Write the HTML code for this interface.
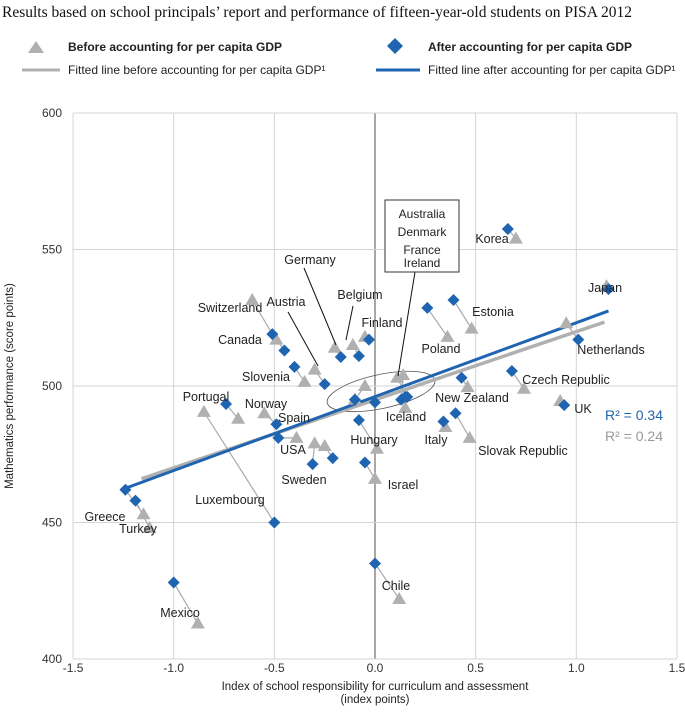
<!DOCTYPE html>
<html><head><meta charset="utf-8"><style>
body{margin:0;background:#fff;width:685px;height:723px;overflow:hidden;font-family:"Liberation Sans",sans-serif}
svg text{font-family:"Liberation Sans",sans-serif}
</style></head><body>
<svg id="c" width="685" height="723">
<text x="2" y="17" font-size="15.5" fill="#111" style="font-family:'Liberation Serif',serif">Results based on school principals’ report and performance of fifteen-year-old students on PISA 2012</text>
<g font-size="12" font-weight="bold" fill="#222">
<polygon points="36,41 28,53 44,53" fill="#b0b0b0"/>
<text x="68" y="51">Before accounting for per capita GDP</text>
<polygon points="395,38 403,46 395,54 387,46" fill="#1f64b0"/>
<text x="428" y="51">After accounting for per capita GDP</text>
<line x1="22" y1="70" x2="60" y2="70" stroke="#b0b0b0" stroke-width="3"/>
<text x="68" y="74" font-weight="normal">Fitted line before accounting for per capita GDP¹</text>
<line x1="376" y1="70" x2="420" y2="70" stroke="#1f64b0" stroke-width="3"/>
<text x="428" y="74" font-weight="normal">Fitted line after accounting for per capita GDP¹</text>
</g>
<g id="grid"></g><g id="plot"></g>
<text transform="translate(13,386) rotate(-90)" text-anchor="middle" font-size="11.5" fill="#222">Mathematics performance (score points)</text>
<text x="375" y="690" text-anchor="middle" font-size="11.5" fill="#222">Index of  school responsibility for curriculum and assessment</text>
<text x="375" y="703" text-anchor="middle" font-size="11.5" fill="#222">(index points)</text>
</svg>
<script>
const xTicks=[-1.5,-1.0,-0.5,0,0.5,1.0,1.5];
const xTickLabels=["-1.5","-1.0","-0.5","0.0","0.5","1.0","1.5"];
const yTicks=[400,450,500,550,600];
const countries=["Korea","Japan","Netherlands","Estonia","Poland","Czech Republic","UK","New Zealand","Slovak Republic","Italy","Iceland","Australia","Denmark","France","Ireland","Finland","Belgium","Germany","Switzerland","Canada","Austria","Slovenia","Portugal","Luxembourg","Norway","Spain","USA","Sweden","Hungary","Israel","Chile","Mexico","Greece","Turkey"];
const beforeX=[0.70,1.15,0.95,0.48,0.36,0.74,0.92,0.46,0.47,0.35,0.15,0.11,0.14,-0.05,-0.10,-0.05,-0.11,-0.20,-0.61,-0.49,-0.30,-0.35,-0.68,-0.85,-0.55,-0.39,-0.25,-0.30,0.01,0.00,0.12,-0.88,-1.15,-1.12];
const beforeY=[554,536.6,523,521,518,499,494.5,499.6,481,485,492,503,504,500,495,518,515,514,531.5,517,506,501.5,488,490.5,490,481,478,479,477,466,422,413,453,448];
const afterX=[0.66,1.16,1.01,0.39,0.26,0.68,0.94,0.43,0.40,0.34,0.15,0.16,0.13,-0.10,0.00,-0.03,-0.08,-0.17,-0.51,-0.45,-0.25,-0.40,-0.74,-0.50,-0.49,-0.48,-0.21,-0.31,-0.08,-0.05,0.00,-1.00,-1.24,-1.19];
const afterY=[557.5,535.5,517,531.5,528.6,505.5,493,503,490,487,496,496,495,495,494,517,511,510.6,519,513,500.7,507,493.4,450,486,481,473.6,471.4,487.5,472,435,428,462,458];
const fitBefore=[[-1.16,466],[1.14,523.4]];
const fitAfter=[[-1.26,462],[1.16,527.5]];
const labelNames=["Korea","Japan","Netherlands","Estonia","Poland","Czech Republic","UK","New Zealand","Slovak Republic","Italy","Iceland","Germany","Belgium","Finland","Switzerland","Canada","Austria","Slovenia","Portugal","Norway","Spain","USA","Sweden","Hungary","Israel","Luxembourg","Chile","Mexico","Greece","Turkey"];
const labelPx=[[492,243],[605,292],[611,354],[493,316],[441,353],[566,384],[583,413],[472,402],[523,455],[436,444],[406,421],[310,264],[360,299],[382,327],[230,312],[240,344],[286,306],[266,381],[206,401],[266,408],[294,422],[293,454],[304,484],[374,444],[403,489],[230,504],[396,590],[180,617],[105,521],[138,533]];
const NS="http://www.w3.org/2000/svg";
const X=v=>375+v*201.3, Y=v=>386-(v-500)*2.73;
function mk(t,a,p){const e=document.createElementNS(NS,t);for(const k in a)e.setAttribute(k,a[k]);p.appendChild(e);return e;}
const grid=document.getElementById('grid'), plot=document.getElementById('plot');
xTicks.forEach((t,i)=>{
 const l=mk('line',{x1:X(t),x2:X(t),y1:Y(600),y2:Y(400),stroke:t===0?'#8a8a8a':'#d4d4d4','stroke-width':t===0?1.5:1},grid);
 
 
 const tx=mk('text',{x:X(t),y:672,'text-anchor':'middle','font-size':12,fill:'#333'},grid);tx.textContent=xTickLabels[i];
 
 
});
yTicks.forEach(t=>{
 const l=mk('line',{x1:X(-1.5),x2:X(1.5),y1:Y(t),y2:Y(t),stroke:'#d4d4d4','stroke-width':1},grid);
 
 
 const tx=mk('text',{x:62,y:Y(t)+4,'text-anchor':'end','font-size':12,fill:'#333'},grid);tx.textContent=t;
 
 
});
countries.forEach((c,i)=>{
 const l=mk('line',{x1:X(beforeX[i]),y1:Y(beforeY[i]),x2:X(afterX[i]),y2:Y(afterY[i]),stroke:'#aaa','stroke-width':1.2},plot);
 
 
});
const el=mk('ellipse',{cx:X(0.03),cy:Y(498),rx:55,ry:17,transform:`rotate(-12 ${X(0.03)} ${Y(498)})`,fill:'none',stroke:'#555','stroke-width':0.8},plot);


const fb=mk('line',{x1:X(fitBefore[0][0]),y1:Y(fitBefore[0][1]),x2:X(fitBefore[1][0]),y2:Y(fitBefore[1][1]),stroke:'#b0b0b0','stroke-width':3.5},plot);


const fa=mk('line',{x1:X(fitAfter[0][0]),y1:Y(fitAfter[0][1]),x2:X(fitAfter[1][0]),y2:Y(fitAfter[1][1]),stroke:'#1f64b0','stroke-width':3},plot);


countries.forEach((c,i)=>{
 const x=X(beforeX[i]),y=Y(beforeY[i]);
 const t=mk('polygon',{points:`${x},${y-7} ${x-7},${y+5} ${x+7},${y+5}`,fill:'#b0b0b0'},plot);
 
 
});
countries.forEach((c,i)=>{
 const x=X(afterX[i]),y=Y(afterY[i]);
 const d=mk('polygon',{points:`${x},${y-6} ${x+6},${y} ${x},${y+6} ${x-6},${y}`,fill:'#1f64b0'},plot);
 
 
});
[[304,268,336,345],[353,306,346,340],[288,312,318,366],[415,272,398,376]].forEach(a=>{
 const l=mk('line',{x1:a[0],y1:a[1],x2:a[2],y2:a[3],stroke:'#111','stroke-width':1},plot);
 
 
});
labelNames.forEach((n,i)=>{
 const t=mk('text',{x:labelPx[i][0],y:labelPx[i][1],'text-anchor':'middle','font-size':12.5,fill:'#222'},plot);t.textContent=n;
 
 
});
const box=mk('rect',{x:385,y:200,width:74,height:72,fill:'#fff',stroke:'#333'},plot);


["Australia","Denmark","France","Ireland"].forEach((n,i)=>{
 const t=mk('text',{x:422,y:218+i*18-(i==3?5:0),'text-anchor':'middle','font-size':12,fill:'#222'},plot);t.textContent=n;
 
 
});
const r1=mk('text',{x:605,y:420,'font-size':14,fill:'#1f64b0'},plot);r1.textContent='R² = 0.34';


const r2=mk('text',{x:605,y:441,'font-size':14,fill:'#999'},plot);r2.textContent='R² = 0.24';


</script>
</body></html>
